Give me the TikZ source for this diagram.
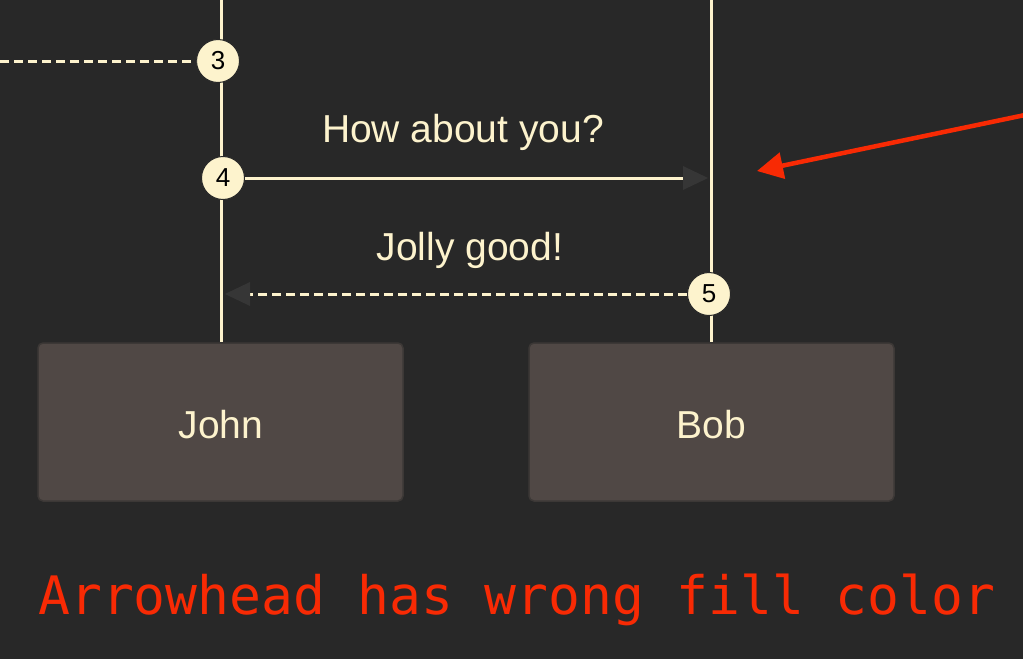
\documentclass[tikz,border=0pt]{standalone}
\usepackage{fontspec}
\setmainfont{Liberation Sans}
\newfontfamily\monofont{DejaVu Sans Mono}
\usetikzlibrary{arrows.meta}
\definecolor{bg}{HTML}{282828}
\definecolor{cream}{HTML}{FDF3CD}
\definecolor{boxfill}{HTML}{504845}
\definecolor{boxline}{HTML}{3C3836}
\definecolor{headgray}{HTML}{363636}
\definecolor{redc}{HTML}{F82A04}
\tikzset{
  lifeline/.style={draw=cream, line width=3pt},
  actorbox/.style={draw=boxline, fill=boxfill, line width=1.5pt, rounded corners=5pt, minimum width=365pt, minimum height=158pt, inner sep=0pt, font=\fontsize{39}{44}\selectfont, text=cream},
  seqnum/.style={circle, draw=bg, line width=1pt, fill=cream, minimum size=43pt, inner sep=0pt, font=\fontsize{26}{30}\selectfont, text=black},
  msg/.style={draw=cream, line width=3pt},
  dashmsg/.style={msg, dash pattern=on 9pt off 5pt},
  msglabel/.style={font=\fontsize{39}{44}\selectfont, text=cream, inner sep=0pt},
  note/.style={draw=redc, line width=4.5pt, -{Triangle[length=26pt,width=26pt]}},
}
\begin{document}
\begin{tikzpicture}[x=1pt,y=-1pt]
\fill[bg] (0,0) rectangle (1023,659);
\useasboundingbox (0,0) rectangle (1023,659);
% actor boxes
\node[actorbox] (john) at (220.5,422) {};
\node[actorbox] (bob) at (711.5,422) {};
\node[text=cream, font=\fontsize{39}{44}\selectfont, inner sep=0pt] (johnlbl) at (221,425) {John};
\node[text=cream, font=\fontsize{39}{44}\selectfont, inner sep=0pt] (boblbl) at (711,425) {Bob};
\coordinate (johntop) at (221,0);
\coordinate (bobtop) at (711,0);
\draw[lifeline] (johntop) -- (john.north -| johntop);
\draw[lifeline] (bobtop) -- (bob.north -| bobtop);
% message 3 (incoming from the left)
\coordinate (leftend) at (0,61);
\node[seqnum] (n3) at (218,61) {3};
\draw[dashmsg] (leftend) -- (n3.west);
% message 4
\node[seqnum] (n4) at (223,178) {4};
\coordinate (h4) at (708,178);
\node[msglabel] (l4) at (463,132) {How about you?};
\draw[msg, shorten >=25pt] (n4.east) -- (h4);
\fill[headgray] (683,166) -- (708,178) -- (683,190) -- cycle;
% message 5
\node[seqnum] (n5) at (709,294) {5};
\coordinate (h5) at (225,294);
\node[msglabel] (l5) at (470,250) {Jolly good!};
\draw[dashmsg, shorten >=25pt] (n5.west) -- (h5);
\fill[headgray] (250,282) -- (225,294) -- (250,306) -- cycle;
% annotation
\coordinate (ns) at (1025,115);
\coordinate (ne) at (757,171);
\draw[note, color=redc] (ns) -- (ne);
\node[anchor=base west, inner sep=0pt, text=redc, font=\monofont\fontsize{53}{60}\selectfont] (cap) at (38,614) {Arrowhead has wrong fill color};
\end{tikzpicture}
\end{document}
